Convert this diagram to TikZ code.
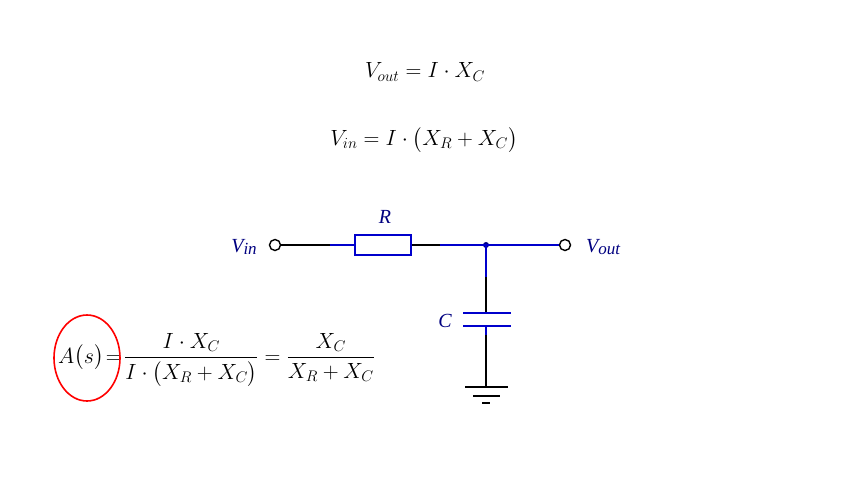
\RequirePackage{fix-cm}
\documentclass[tikz,border=0pt]{standalone}
\usepackage{fontspec}
\setmainfont{Liberation Serif}
\usepackage{amsmath}
\begin{document}
\begin{tikzpicture}[x=1pt,y=-1pt,
 bw/.style={line width=1.6pt,black},
 uw/.style={line width=1.6pt,blue!80!black},
 lab/.style={text=blue!50!black,font=\fontsize{20}{22}\selectfont\itshape},
 eq/.style={font=\fontsize{22}{25}\selectfont},
 term/.style={circle,draw,line width=1.4pt,minimum size=11pt,inner sep=0pt}]
\useasboundingbox (0,0) rectangle (848,480);
\node[eq] (e1) at (425,72) {$V_{\scriptstyle out}=I\cdot X_C$};
\node[eq] (e2) at (424,140) {$V_{\scriptstyle in}=I\cdot\bigl(X_R+X_C\bigr)$};
\node[eq,anchor=west,inner sep=0pt] (e3) at (58,360) {$A\bigl(s\bigr)\!=\!\dfrac{I\cdot X_C}{I\cdot\bigl(X_R+X_C\bigr)}=\dfrac{X_C}{X_R+X_C}$};
\draw[red,line width=1.6pt] (87,358) ellipse [x radius=33,y radius=43];
\node[term] (tin) at (275,245) {};
\node[term] (tout) at (565,245) {};
\node[draw,uw,minimum width=56pt,minimum height=20pt,inner sep=0pt] (res) at (383,245) {};
\coordinate (j) at (486,245);
\fill[blue!50!black] (j) circle (3pt);
\coordinate (c1) at (486,313); \coordinate (c2) at (486,326);
\coordinate (g) at (486,387);
\draw[bw] (tin) -- (330,245); \draw[uw] (330,245) -- (res.west);
\draw[bw] (res.east) -- (440,245); \draw[uw] (440,245) -- (j) -- (tout);
\draw[uw] (j) -- (486,277); \draw[bw] (486,277) -- (c1);
\draw[uw] (463,313) -- (511,313); \draw[uw] (463,326) -- (511,326);
\draw[uw] (c2) -- (486,335); \draw[bw] (486,335) -- (g);
\draw[bw] (465,387) -- (508,387); \draw[bw] (473,396) -- (500,396); \draw[bw] (482,403) -- (490,403);
\node[lab] (vin) at (244,247) {V\raisebox{-2pt}{\fontsize{17}{17}\selectfont in}};
\node[lab] (r) at (385,217) {R};
\node[lab] (c) at (445,321) {C};
\node[lab] (vout) at (603,247) {V\raisebox{-2pt}{\fontsize{17}{17}\selectfont out}};
\end{tikzpicture}
\end{document}
